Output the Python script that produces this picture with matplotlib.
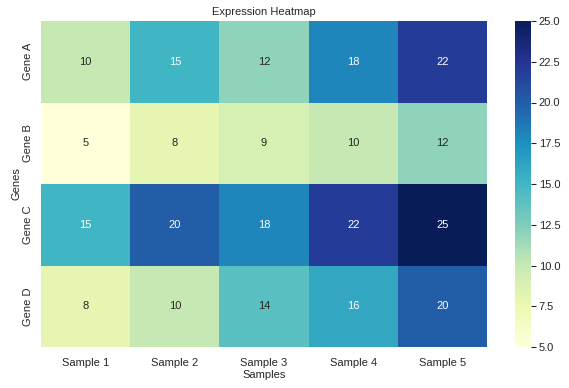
import matplotlib
matplotlib.use("Agg")
import matplotlib.pyplot as plt
import seaborn as sns
import pandas as pd

genes = ["Gene A", "Gene B", "Gene C", "Gene D"]
samples = ["Sample 1", "Sample 2", "Sample 3", "Sample 4", "Sample 5"]
gene_a = [10, 15, 12, 18, 22]
gene_b = [5, 8, 9, 10, 12]
gene_c = [15, 20, 18, 22, 25]
gene_d = [8, 10, 14, 16, 20]

df = pd.DataFrame([gene_a, gene_b, gene_c, gene_d], index=genes, columns=samples)

sns.set_theme(style="white")
plt.rcParams['font.family'] = ['Liberation Sans', 'DejaVu Sans']
W, H = 569, 388
fig = plt.figure(figsize=(W / 100, H / 100), dpi=100)
ax = fig.add_axes([41 / W, 1 - 347 / H, (487 - 41) / W, (347 - 21) / H])
cax = fig.add_axes([515 / W, 1 - 347 / H, 16 / W, (347 - 21) / H])
sns.heatmap(df, annot=True, fmt="d", cmap="YlGnBu", ax=ax, cbar_ax=cax,
            vmin=5, vmax=25, annot_kws={"fontsize": 8})
fs = 8
ax.set_title("Expression Heatmap", fontsize=fs, pad=4)
ax.set_xlabel("Samples", fontsize=fs, labelpad=1)
ax.set_ylabel("Genes", fontsize=fs, labelpad=1)
ax.tick_params(labelsize=fs, length=0, pad=8)
ax.tick_params(axis="y", pad=6)
plt.setp(ax.get_xticklabels(), rotation=0)
plt.setp(ax.get_yticklabels(), rotation=90, va="center")
cax.tick_params(labelsize=fs, length=3.5, width=0.8, color="#262626", pad=2, right=True)
fig.savefig("out.png", dpi=100)
